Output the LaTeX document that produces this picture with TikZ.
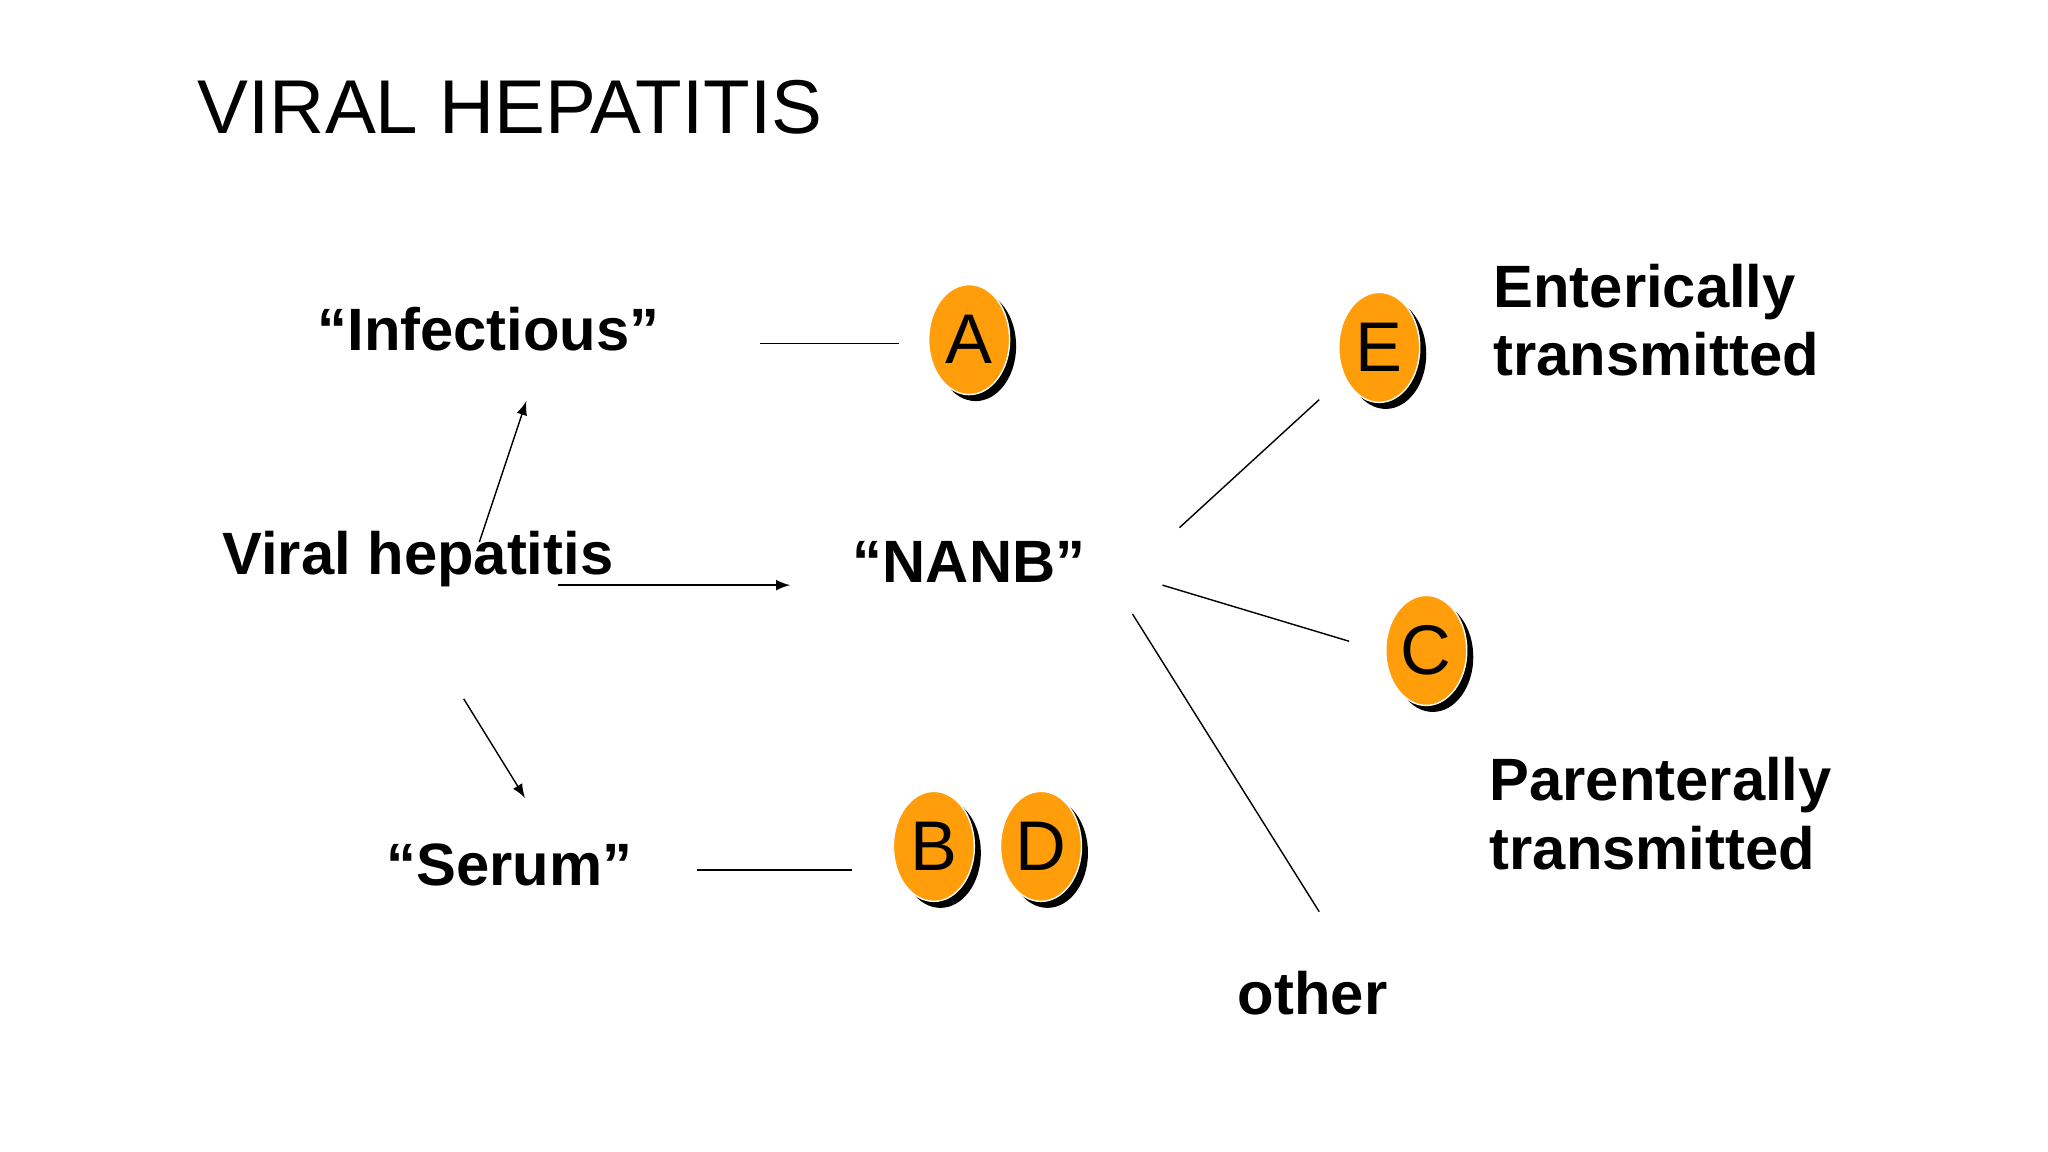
\documentclass[tikz,border=0pt]{standalone}
\usepackage{fontspec}
\setmainfont{Liberation Sans}
\usetikzlibrary{shapes,arrows}
\usetikzlibrary{positioning,shadows}
\definecolor{hepor}{HTML}{FF9E0A}
\tikzstyle{virus} = [draw=white, ellipse, fill=hepor, thin, minimum width=0.81cm, minimum height=1.1cm,
inner sep=0pt, font=\fontsize{20}{20}\selectfont, drop shadow={shadow xshift=0.065cm, shadow yshift=-0.065cm, opacity=1, fill=black}]
\tikzstyle{term} = [font=\bfseries\fontsize{17}{19.5}\selectfont, align=left]
\tikzstyle{line} = [draw, thin]
\begin{document}
\begin{tikzpicture}[x=0.01306cm, y=-0.01306cm]
	\useasboundingbox (0,0) rectangle (1568,882);
	\node [anchor=west, font=\fontsize{21.7}{22}\selectfont] (title) at (142,82) {VIRAL HEPATITIS};
	\node [term] (inf) at (374,252) {“Infectious”};
	\node [term] (vh) at (320,428) {Viral hepatitis};
	\node [term] (nanb) at (742,430) {“NANB”};
	\node [term] (ser) at (390,662) {“Serum”};
	\node [term] (oth) at (1005,760) {other};
	\node [term, anchor=west] (ent) at (1134,245) {Enterically\\transmitted};
	\node [term, anchor=west] (par) at (1131,623) {Parenterally\\transmitted};
	\node [virus] (A) at (742,260) {A};
	\node [virus] (E) at (1056,266) {E};
	\node [virus] (C) at (1092,498) {C};
	\node [virus] (B) at (715,648) {B};
	\node [virus] (D) at (797,648) {D};
	%% connector ends
	\coordinate (a1) at (582,263); \coordinate (a2) at (688,263);
	\coordinate (s1) at (534,666); \coordinate (s2) at (652,666);
	\coordinate (v1) at (367,415); \coordinate (v2) at (403,307);
	\coordinate (v3) at (427,448); \coordinate (v4) at (605,448);
	\coordinate (v5) at (355,535); \coordinate (v6) at (402,611);
	\coordinate (n1) at (903,404); \coordinate (n2) at (1010,306);
	\coordinate (n3) at (890,448); \coordinate (n4) at (1033,491);
	\coordinate (n5) at (867,470); \coordinate (n6) at (1010,698);
	%% Flows
	\path [line] (a1) -- (a2);
	\path [line] (s1) -- (s2);
	\path [line, -latex] (v1) -- (v2);
	\path [line, -latex] (v3) -- (v4);
	\path [line, -latex] (v5) -- (v6);
	\path [line] (n1) -- (n2);
	\path [line] (n3) -- (n4);
	\path [line] (n5) -- (n6);
\end{tikzpicture}
\end{document}
